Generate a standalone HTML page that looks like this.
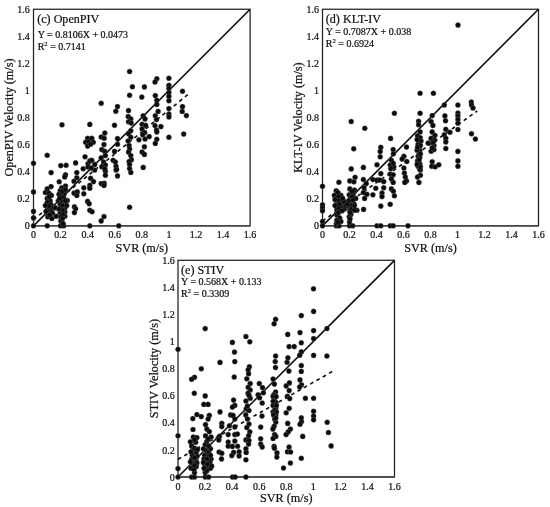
<!DOCTYPE html>
<html><head><meta charset="utf-8"><title>Scatter</title>
<style>
html,body{margin:0;padding:0;background:#fff;}
svg{display:block;font-family:"Liberation Serif",serif;fill:#111;}
text{stroke:#111;stroke-width:0.22px;}
.tk{font-size:10px;}
.al{font-size:12.2px;}
.tt{font-size:12.1px;}
.eq{font-size:10px;}
.fr{fill:none;stroke:#222;stroke-width:1.25;}
.ax{fill:none;stroke:#444;stroke-width:1.35;}
.dg{stroke:#111;stroke-width:1.65;fill:none;}
.ds{stroke:#111;stroke-width:1.65;fill:none;stroke-dasharray:3.7 3.73;}
.p circle{fill:#0a0a0a;stroke:#666;stroke-width:0.4;}
</style></head><body>
<svg width="550" height="507" viewBox="0 0 550 507">
<rect width="550" height="507" fill="#fff"/>

<g id="panel-c">
<rect class="fr" x="33.5" y="9.25" width="216.6" height="216.6"/>
<path class="ax" d="M33.5 225.8H250.1"/>
<text class="tk" x="33.5" y="238.1" text-anchor="middle">0</text>
<text class="tk" x="29.7" y="229.4" text-anchor="end">0</text>
<text class="tk" x="60.6" y="238.1" text-anchor="middle">0.2</text>
<text class="tk" x="29.7" y="202.3" text-anchor="end">0.2</text>
<text class="tk" x="87.7" y="238.1" text-anchor="middle">0.4</text>
<text class="tk" x="29.7" y="175.3" text-anchor="end">0.4</text>
<text class="tk" x="114.7" y="238.1" text-anchor="middle">0.6</text>
<text class="tk" x="29.7" y="148.2" text-anchor="end">0.6</text>
<text class="tk" x="141.8" y="238.1" text-anchor="middle">0.8</text>
<text class="tk" x="29.7" y="121.1" text-anchor="end">0.8</text>
<text class="tk" x="168.9" y="238.1" text-anchor="middle">1</text>
<text class="tk" x="29.7" y="94.1" text-anchor="end">1</text>
<text class="tk" x="196.0" y="238.1" text-anchor="middle">1.2</text>
<text class="tk" x="29.7" y="67.0" text-anchor="end">1.2</text>
<text class="tk" x="223.0" y="238.1" text-anchor="middle">1.4</text>
<text class="tk" x="29.7" y="39.9" text-anchor="end">1.4</text>
<text class="tk" x="250.1" y="238.1" text-anchor="middle">1.6</text>
<text class="tk" x="29.7" y="12.8" text-anchor="end">1.6</text>
<text class="al" x="141.8" y="251.9" text-anchor="middle">SVR (m/s)</text>
<text class="al" transform="translate(13.1 117.5) rotate(-90)" text-anchor="middle">OpenPIV Velocity (m/s)</text>
<text class="tt" x="37.2" y="23.0">(c) OpenPIV</text>
<text class="eq" x="37.7" y="38.2">Y = 0.8106X + 0.0473</text>
<text class="eq" x="37.7" y="49.8">R<tspan dy="-3.9" font-size="6.6px">2</tspan><tspan dy="3.9"> = 0.7141</tspan></text>
<path class="dg" d="M33.5 225.8L250.1 9.25"/>
<path class="ds" style="stroke-dasharray:3.62 3.6" d="M33.5 219.7L188.1 94.4"/>
<g class="p">
<circle cx="33.5" cy="191.9" r="2.55"/>
<circle cx="33.5" cy="211.4" r="2.55"/>
<circle cx="33.5" cy="217.9" r="2.55"/>
<circle cx="33.5" cy="225.8" r="2.55"/>
<circle cx="47.2" cy="225.8" r="2.55"/>
<circle cx="60.5" cy="225.8" r="2.55"/>
<circle cx="63.7" cy="225.8" r="2.55"/>
<circle cx="89.8" cy="225.8" r="2.55"/>
<circle cx="51.1" cy="172.6" r="2.55"/>
<circle cx="51.1" cy="186.6" r="2.55"/>
<circle cx="47.2" cy="188.9" r="2.55"/>
<circle cx="45.4" cy="192.5" r="2.55"/>
<circle cx="48.9" cy="193.1" r="2.55"/>
<circle cx="51.3" cy="195.4" r="2.55"/>
<circle cx="47.2" cy="198.4" r="2.55"/>
<circle cx="50.1" cy="200.8" r="2.55"/>
<circle cx="47.2" cy="202.5" r="2.55"/>
<circle cx="50.7" cy="204.3" r="2.55"/>
<circle cx="47.2" cy="206.7" r="2.55"/>
<circle cx="51.9" cy="207.9" r="2.55"/>
<circle cx="47.2" cy="210.2" r="2.55"/>
<circle cx="51.3" cy="211.4" r="2.55"/>
<circle cx="47.8" cy="213.8" r="2.55"/>
<circle cx="52.5" cy="213.2" r="2.55"/>
<circle cx="47.8" cy="216.8" r="2.55"/>
<circle cx="51.9" cy="218.5" r="2.55"/>
<circle cx="55.4" cy="207.9" r="2.55"/>
<circle cx="56.3" cy="216.2" r="2.55"/>
<circle cx="65.5" cy="174.7" r="2.55"/>
<circle cx="64.7" cy="176.9" r="2.55"/>
<circle cx="59.2" cy="181.8" r="2.55"/>
<circle cx="65.5" cy="186.0" r="2.55"/>
<circle cx="61.7" cy="187.8" r="2.55"/>
<circle cx="60.2" cy="190.7" r="2.55"/>
<circle cx="59.0" cy="194.3" r="2.55"/>
<circle cx="64.3" cy="193.7" r="2.55"/>
<circle cx="61.4" cy="196.6" r="2.55"/>
<circle cx="63.7" cy="197.8" r="2.55"/>
<circle cx="58.4" cy="200.8" r="2.55"/>
<circle cx="62.0" cy="201.4" r="2.55"/>
<circle cx="67.3" cy="200.5" r="2.55"/>
<circle cx="60.2" cy="204.3" r="2.55"/>
<circle cx="64.9" cy="204.3" r="2.55"/>
<circle cx="60.8" cy="208.5" r="2.55"/>
<circle cx="64.9" cy="207.9" r="2.55"/>
<circle cx="60.2" cy="212.6" r="2.55"/>
<circle cx="64.9" cy="212.0" r="2.55"/>
<circle cx="60.8" cy="216.8" r="2.55"/>
<circle cx="64.9" cy="216.2" r="2.55"/>
<circle cx="60.8" cy="220.9" r="2.55"/>
<circle cx="63.1" cy="223.5" r="2.55"/>
<circle cx="76.8" cy="172.6" r="2.55"/>
<circle cx="76.8" cy="177.7" r="2.55"/>
<circle cx="74.0" cy="181.2" r="2.55"/>
<circle cx="74.0" cy="193.1" r="2.55"/>
<circle cx="77.3" cy="191.9" r="2.55"/>
<circle cx="76.8" cy="195.4" r="2.55"/>
<circle cx="83.8" cy="187.8" r="2.55"/>
<circle cx="83.8" cy="193.7" r="2.55"/>
<circle cx="74.4" cy="206.7" r="2.55"/>
<circle cx="75.6" cy="208.8" r="2.55"/>
<circle cx="74.4" cy="212.6" r="2.55"/>
<circle cx="87.6" cy="201.4" r="2.55"/>
<circle cx="89.2" cy="203.7" r="2.55"/>
<circle cx="89.8" cy="210.2" r="2.55"/>
<circle cx="89.8" cy="185.4" r="2.55"/>
<circle cx="89.8" cy="188.3" r="2.55"/>
<circle cx="94.7" cy="170.0" r="2.55"/>
<circle cx="105.4" cy="171.2" r="2.55"/>
<circle cx="105.4" cy="175.3" r="2.55"/>
<circle cx="116.0" cy="170.0" r="2.55"/>
<circle cx="117.5" cy="175.9" r="2.55"/>
<circle cx="130.8" cy="172.4" r="2.55"/>
<circle cx="90.6" cy="178.3" r="2.55"/>
<circle cx="93.5" cy="181.6" r="2.55"/>
<circle cx="101.2" cy="183.6" r="2.55"/>
<circle cx="104.2" cy="183.2" r="2.55"/>
<circle cx="104.0" cy="185.4" r="2.55"/>
<circle cx="92.1" cy="211.7" r="2.55"/>
<circle cx="129.6" cy="207.3" r="2.55"/>
<circle cx="104.0" cy="216.5" r="2.55"/>
<circle cx="101.2" cy="220.9" r="2.55"/>
<circle cx="118.8" cy="225.8" r="2.55"/>
<circle cx="62.0" cy="124.8" r="2.55"/>
<circle cx="89.8" cy="124.4" r="2.55"/>
<circle cx="87.6" cy="138.4" r="2.55"/>
<circle cx="85.6" cy="142.2" r="2.55"/>
<circle cx="88.6" cy="141.9" r="2.55"/>
<circle cx="87.6" cy="146.1" r="2.55"/>
<circle cx="47.2" cy="155.3" r="2.55"/>
<circle cx="85.0" cy="156.8" r="2.55"/>
<circle cx="33.5" cy="163.2" r="2.55"/>
<circle cx="60.8" cy="165.6" r="2.55"/>
<circle cx="66.1" cy="165.3" r="2.55"/>
<circle cx="75.6" cy="162.9" r="2.55"/>
<circle cx="88.0" cy="163.8" r="2.55"/>
<circle cx="89.8" cy="160.9" r="2.55"/>
<circle cx="83.2" cy="168.8" r="2.55"/>
<circle cx="88.0" cy="167.0" r="2.55"/>
<circle cx="91.8" cy="138.2" r="2.55"/>
<circle cx="93.3" cy="142.2" r="2.55"/>
<circle cx="90.6" cy="144.3" r="2.55"/>
<circle cx="91.8" cy="160.3" r="2.55"/>
<circle cx="94.7" cy="164.4" r="2.55"/>
<circle cx="91.2" cy="168.0" r="2.55"/>
<circle cx="104.8" cy="133.1" r="2.55"/>
<circle cx="101.2" cy="137.0" r="2.55"/>
<circle cx="104.2" cy="138.2" r="2.55"/>
<circle cx="104.0" cy="144.6" r="2.55"/>
<circle cx="101.8" cy="149.6" r="2.55"/>
<circle cx="104.8" cy="151.4" r="2.55"/>
<circle cx="105.4" cy="155.6" r="2.55"/>
<circle cx="101.2" cy="157.9" r="2.55"/>
<circle cx="103.6" cy="162.1" r="2.55"/>
<circle cx="105.4" cy="165.0" r="2.55"/>
<circle cx="101.8" cy="166.8" r="2.55"/>
<circle cx="104.8" cy="168.8" r="2.55"/>
<circle cx="114.5" cy="125.2" r="2.55"/>
<circle cx="115.8" cy="111.2" r="2.55"/>
<circle cx="117.5" cy="138.6" r="2.55"/>
<circle cx="117.5" cy="144.3" r="2.55"/>
<circle cx="114.5" cy="151.4" r="2.55"/>
<circle cx="113.1" cy="160.3" r="2.55"/>
<circle cx="115.4" cy="162.1" r="2.55"/>
<circle cx="116.0" cy="166.2" r="2.55"/>
<circle cx="116.6" cy="169.4" r="2.55"/>
<circle cx="128.5" cy="110.6" r="2.55"/>
<circle cx="128.2" cy="116.5" r="2.55"/>
<circle cx="130.8" cy="118.9" r="2.55"/>
<circle cx="128.5" cy="121.8" r="2.55"/>
<circle cx="131.2" cy="123.0" r="2.55"/>
<circle cx="130.8" cy="130.7" r="2.55"/>
<circle cx="128.5" cy="133.7" r="2.55"/>
<circle cx="130.8" cy="137.2" r="2.55"/>
<circle cx="128.1" cy="141.0" r="2.55"/>
<circle cx="129.1" cy="145.5" r="2.55"/>
<circle cx="129.6" cy="149.1" r="2.55"/>
<circle cx="128.5" cy="152.0" r="2.55"/>
<circle cx="130.8" cy="155.6" r="2.55"/>
<circle cx="131.4" cy="159.7" r="2.55"/>
<circle cx="129.1" cy="161.5" r="2.55"/>
<circle cx="129.6" cy="164.4" r="2.55"/>
<circle cx="129.6" cy="168.6" r="2.55"/>
<circle cx="143.2" cy="115.9" r="2.55"/>
<circle cx="145.0" cy="118.9" r="2.55"/>
<circle cx="142.1" cy="124.2" r="2.55"/>
<circle cx="145.6" cy="125.4" r="2.55"/>
<circle cx="142.1" cy="128.9" r="2.55"/>
<circle cx="144.7" cy="132.5" r="2.55"/>
<circle cx="142.7" cy="134.8" r="2.55"/>
<circle cx="145.0" cy="139.0" r="2.55"/>
<circle cx="138.9" cy="139.8" r="2.55"/>
<circle cx="144.4" cy="146.7" r="2.55"/>
<circle cx="142.1" cy="152.0" r="2.55"/>
<circle cx="144.4" cy="154.4" r="2.55"/>
<circle cx="143.2" cy="167.4" r="2.55"/>
<circle cx="149.2" cy="136.6" r="2.55"/>
<circle cx="158.1" cy="111.4" r="2.55"/>
<circle cx="155.3" cy="115.7" r="2.55"/>
<circle cx="156.5" cy="119.5" r="2.55"/>
<circle cx="155.0" cy="125.6" r="2.55"/>
<circle cx="160.9" cy="126.6" r="2.55"/>
<circle cx="156.5" cy="130.1" r="2.55"/>
<circle cx="156.8" cy="131.9" r="2.55"/>
<circle cx="156.8" cy="139.3" r="2.55"/>
<circle cx="155.3" cy="143.4" r="2.55"/>
<circle cx="168.9" cy="114.1" r="2.55"/>
<circle cx="168.9" cy="116.9" r="2.55"/>
<circle cx="168.9" cy="137.2" r="2.55"/>
<circle cx="182.2" cy="111.4" r="2.55"/>
<circle cx="186.4" cy="115.6" r="2.55"/>
<circle cx="183.7" cy="134.0" r="2.55"/>
<circle cx="129.6" cy="71.5" r="2.55"/>
<circle cx="132.4" cy="86.7" r="2.55"/>
<circle cx="144.4" cy="86.9" r="2.55"/>
<circle cx="129.6" cy="95.2" r="2.55"/>
<circle cx="141.8" cy="97.1" r="2.55"/>
<circle cx="101.2" cy="103.2" r="2.55"/>
<circle cx="117.5" cy="106.6" r="2.55"/>
<circle cx="156.8" cy="78.8" r="2.55"/>
<circle cx="155.0" cy="82.0" r="2.55"/>
<circle cx="155.3" cy="95.6" r="2.55"/>
<circle cx="156.8" cy="100.3" r="2.55"/>
<circle cx="156.8" cy="104.4" r="2.55"/>
<circle cx="168.9" cy="78.2" r="2.55"/>
<circle cx="168.9" cy="85.3" r="2.55"/>
<circle cx="168.9" cy="88.5" r="2.55"/>
<circle cx="168.9" cy="92.6" r="2.55"/>
<circle cx="168.9" cy="96.4" r="2.55"/>
<circle cx="168.9" cy="100.7" r="2.55"/>
<circle cx="168.9" cy="108.6" r="2.55"/>
<circle cx="182.5" cy="91.2" r="2.55"/>
<circle cx="182.5" cy="106.6" r="2.55"/>
<circle cx="49.2" cy="196.6" r="2.55"/>
<circle cx="49.2" cy="206.1" r="2.55"/>
<circle cx="49.5" cy="215.0" r="2.55"/>
<circle cx="45.4" cy="205.5" r="2.55"/>
<circle cx="46.0" cy="211.4" r="2.55"/>
<circle cx="62.5" cy="191.3" r="2.55"/>
<circle cx="65.5" cy="189.5" r="2.55"/>
<circle cx="59.6" cy="198.4" r="2.55"/>
<circle cx="65.5" cy="200.8" r="2.55"/>
<circle cx="62.5" cy="205.5" r="2.55"/>
<circle cx="62.5" cy="210.2" r="2.55"/>
<circle cx="63.1" cy="214.4" r="2.55"/>
<circle cx="62.5" cy="218.5" r="2.55"/>
<circle cx="59.0" cy="209.1" r="2.55"/>
<circle cx="66.7" cy="205.5" r="2.55"/>
</g></g>
<g id="panel-d">
<rect class="fr" x="322.5" y="9.25" width="216.0" height="216.6"/>
<path class="ax" d="M322.5 225.8H538.5"/>
<text class="tk" x="322.5" y="237.9" text-anchor="middle">0</text>
<text class="tk" x="318.9" y="229.4" text-anchor="end">0</text>
<text class="tk" x="349.5" y="237.9" text-anchor="middle">0.2</text>
<text class="tk" x="318.9" y="202.3" text-anchor="end">0.2</text>
<text class="tk" x="376.5" y="237.9" text-anchor="middle">0.4</text>
<text class="tk" x="318.9" y="175.3" text-anchor="end">0.4</text>
<text class="tk" x="403.5" y="237.9" text-anchor="middle">0.6</text>
<text class="tk" x="318.9" y="148.2" text-anchor="end">0.6</text>
<text class="tk" x="430.5" y="237.9" text-anchor="middle">0.8</text>
<text class="tk" x="318.9" y="121.1" text-anchor="end">0.8</text>
<text class="tk" x="457.5" y="237.9" text-anchor="middle">1</text>
<text class="tk" x="318.9" y="94.1" text-anchor="end">1</text>
<text class="tk" x="484.5" y="237.9" text-anchor="middle">1.2</text>
<text class="tk" x="318.9" y="67.0" text-anchor="end">1.2</text>
<text class="tk" x="511.5" y="237.9" text-anchor="middle">1.4</text>
<text class="tk" x="318.9" y="39.9" text-anchor="end">1.4</text>
<text class="tk" x="538.5" y="237.9" text-anchor="middle">1.6</text>
<text class="tk" x="318.9" y="12.8" text-anchor="end">1.6</text>
<text class="al" x="430.5" y="251.9" text-anchor="middle">SVR (m/s)</text>
<text class="al" transform="translate(302.1 117.5) rotate(-90)" text-anchor="middle">KLT-IV Velocity (m/s)</text>
<text class="tt" x="325.8" y="22.7">(d) KLT-IV</text>
<text class="eq" x="325.8" y="34.8">Y = 0.7087X + 0.038</text>
<text class="eq" x="325.8" y="46.7">R<tspan dy="-3.9" font-size="6.6px">2</tspan><tspan dy="3.9"> = 0.6924</tspan></text>
<path class="dg" d="M322.5 225.8L538.5 9.25"/>
<path class="ds" style="stroke-dasharray:3.62 3.6" d="M322.5 221.0L477.2 111.0"/>
<g class="p">
<circle cx="322.5" cy="186.3" r="2.55"/>
<circle cx="322.5" cy="204.9" r="2.55"/>
<circle cx="322.5" cy="207.9" r="2.55"/>
<circle cx="322.5" cy="210.8" r="2.55"/>
<circle cx="322.5" cy="221.5" r="2.55"/>
<circle cx="322.5" cy="225.8" r="2.55"/>
<circle cx="336.2" cy="225.8" r="2.55"/>
<circle cx="339.1" cy="225.8" r="2.55"/>
<circle cx="349.5" cy="225.8" r="2.55"/>
<circle cx="352.7" cy="225.8" r="2.55"/>
<circle cx="377.0" cy="225.8" r="2.55"/>
<circle cx="338.9" cy="182.2" r="2.55"/>
<circle cx="336.2" cy="190.7" r="2.55"/>
<circle cx="337.9" cy="192.5" r="2.55"/>
<circle cx="334.4" cy="195.4" r="2.55"/>
<circle cx="340.9" cy="195.4" r="2.55"/>
<circle cx="336.8" cy="198.4" r="2.55"/>
<circle cx="340.3" cy="199.6" r="2.55"/>
<circle cx="336.8" cy="201.9" r="2.55"/>
<circle cx="341.5" cy="202.5" r="2.55"/>
<circle cx="336.8" cy="205.5" r="2.55"/>
<circle cx="340.9" cy="206.7" r="2.55"/>
<circle cx="336.8" cy="209.6" r="2.55"/>
<circle cx="340.3" cy="210.8" r="2.55"/>
<circle cx="336.8" cy="215.0" r="2.55"/>
<circle cx="339.7" cy="217.9" r="2.55"/>
<circle cx="336.8" cy="220.3" r="2.55"/>
<circle cx="340.9" cy="221.5" r="2.55"/>
<circle cx="336.4" cy="223.5" r="2.55"/>
<circle cx="344.4" cy="209.1" r="2.55"/>
<circle cx="345.6" cy="205.5" r="2.55"/>
<circle cx="343.9" cy="201.4" r="2.55"/>
<circle cx="355.1" cy="177.3" r="2.55"/>
<circle cx="349.8" cy="180.9" r="2.55"/>
<circle cx="353.9" cy="181.8" r="2.55"/>
<circle cx="349.8" cy="188.9" r="2.55"/>
<circle cx="354.5" cy="190.1" r="2.55"/>
<circle cx="349.2" cy="194.8" r="2.55"/>
<circle cx="353.3" cy="193.7" r="2.55"/>
<circle cx="350.4" cy="198.4" r="2.55"/>
<circle cx="355.7" cy="198.4" r="2.55"/>
<circle cx="350.9" cy="202.5" r="2.55"/>
<circle cx="353.9" cy="203.7" r="2.55"/>
<circle cx="349.2" cy="206.7" r="2.55"/>
<circle cx="353.3" cy="207.3" r="2.55"/>
<circle cx="349.8" cy="210.2" r="2.55"/>
<circle cx="356.9" cy="210.2" r="2.55"/>
<circle cx="350.9" cy="214.4" r="2.55"/>
<circle cx="349.2" cy="216.8" r="2.55"/>
<circle cx="349.5" cy="222.1" r="2.55"/>
<circle cx="363.4" cy="179.5" r="2.55"/>
<circle cx="366.3" cy="183.6" r="2.55"/>
<circle cx="364.0" cy="187.8" r="2.55"/>
<circle cx="363.4" cy="192.5" r="2.55"/>
<circle cx="366.9" cy="194.3" r="2.55"/>
<circle cx="364.6" cy="198.4" r="2.55"/>
<circle cx="363.6" cy="209.4" r="2.55"/>
<circle cx="372.9" cy="179.5" r="2.55"/>
<circle cx="377.0" cy="180.1" r="2.55"/>
<circle cx="375.8" cy="188.3" r="2.55"/>
<circle cx="372.9" cy="194.8" r="2.55"/>
<circle cx="380.8" cy="173.6" r="2.55"/>
<circle cx="379.6" cy="180.1" r="2.55"/>
<circle cx="383.7" cy="181.6" r="2.55"/>
<circle cx="383.7" cy="187.8" r="2.55"/>
<circle cx="382.0" cy="193.1" r="2.55"/>
<circle cx="382.0" cy="196.6" r="2.55"/>
<circle cx="380.8" cy="206.1" r="2.55"/>
<circle cx="380.8" cy="225.8" r="2.55"/>
<circle cx="390.2" cy="174.1" r="2.55"/>
<circle cx="393.2" cy="174.7" r="2.55"/>
<circle cx="391.4" cy="178.9" r="2.55"/>
<circle cx="393.2" cy="182.4" r="2.55"/>
<circle cx="391.4" cy="188.9" r="2.55"/>
<circle cx="393.4" cy="191.3" r="2.55"/>
<circle cx="394.4" cy="195.8" r="2.55"/>
<circle cx="390.2" cy="204.3" r="2.55"/>
<circle cx="390.2" cy="225.8" r="2.55"/>
<circle cx="393.2" cy="225.8" r="2.55"/>
<circle cx="404.4" cy="173.0" r="2.55"/>
<circle cx="405.3" cy="177.1" r="2.55"/>
<circle cx="406.5" cy="180.9" r="2.55"/>
<circle cx="404.8" cy="182.4" r="2.55"/>
<circle cx="408.0" cy="225.8" r="2.55"/>
<circle cx="420.4" cy="175.3" r="2.55"/>
<circle cx="417.5" cy="177.1" r="2.55"/>
<circle cx="418.9" cy="182.4" r="2.55"/>
<circle cx="420.4" cy="170.0" r="2.55"/>
<circle cx="351.2" cy="121.5" r="2.55"/>
<circle cx="364.8" cy="128.3" r="2.55"/>
<circle cx="353.7" cy="148.7" r="2.55"/>
<circle cx="377.0" cy="164.7" r="2.55"/>
<circle cx="363.4" cy="167.4" r="2.55"/>
<circle cx="351.2" cy="168.9" r="2.55"/>
<circle cx="394.4" cy="113.2" r="2.55"/>
<circle cx="420.1" cy="113.2" r="2.55"/>
<circle cx="390.6" cy="138.4" r="2.55"/>
<circle cx="406.5" cy="147.0" r="2.55"/>
<circle cx="380.8" cy="147.3" r="2.55"/>
<circle cx="380.2" cy="151.4" r="2.55"/>
<circle cx="380.2" cy="156.8" r="2.55"/>
<circle cx="393.2" cy="149.6" r="2.55"/>
<circle cx="393.4" cy="153.8" r="2.55"/>
<circle cx="391.4" cy="160.3" r="2.55"/>
<circle cx="390.2" cy="165.0" r="2.55"/>
<circle cx="393.8" cy="166.8" r="2.55"/>
<circle cx="403.9" cy="156.2" r="2.55"/>
<circle cx="402.1" cy="159.1" r="2.55"/>
<circle cx="406.8" cy="161.5" r="2.55"/>
<circle cx="403.9" cy="168.0" r="2.55"/>
<circle cx="418.6" cy="121.2" r="2.55"/>
<circle cx="418.6" cy="124.8" r="2.55"/>
<circle cx="420.1" cy="131.9" r="2.55"/>
<circle cx="417.5" cy="135.8" r="2.55"/>
<circle cx="420.2" cy="137.8" r="2.55"/>
<circle cx="421.0" cy="141.0" r="2.55"/>
<circle cx="418.1" cy="144.3" r="2.55"/>
<circle cx="419.2" cy="147.9" r="2.55"/>
<circle cx="419.8" cy="150.8" r="2.55"/>
<circle cx="418.1" cy="156.2" r="2.55"/>
<circle cx="419.8" cy="157.3" r="2.55"/>
<circle cx="417.5" cy="160.9" r="2.55"/>
<circle cx="419.8" cy="163.8" r="2.55"/>
<circle cx="418.1" cy="166.2" r="2.55"/>
<circle cx="419.8" cy="169.2" r="2.55"/>
<circle cx="432.2" cy="115.6" r="2.55"/>
<circle cx="431.1" cy="121.5" r="2.55"/>
<circle cx="432.9" cy="125.4" r="2.55"/>
<circle cx="432.2" cy="131.9" r="2.55"/>
<circle cx="434.9" cy="135.4" r="2.55"/>
<circle cx="431.1" cy="138.4" r="2.55"/>
<circle cx="434.6" cy="140.2" r="2.55"/>
<circle cx="428.1" cy="143.1" r="2.55"/>
<circle cx="434.0" cy="145.5" r="2.55"/>
<circle cx="431.1" cy="151.2" r="2.55"/>
<circle cx="434.0" cy="149.6" r="2.55"/>
<circle cx="432.2" cy="161.7" r="2.55"/>
<circle cx="431.7" cy="166.2" r="2.55"/>
<circle cx="435.2" cy="166.8" r="2.55"/>
<circle cx="438.8" cy="164.7" r="2.55"/>
<circle cx="444.9" cy="115.9" r="2.55"/>
<circle cx="445.5" cy="120.7" r="2.55"/>
<circle cx="445.8" cy="129.3" r="2.55"/>
<circle cx="449.9" cy="132.2" r="2.55"/>
<circle cx="444.3" cy="134.8" r="2.55"/>
<circle cx="445.8" cy="138.4" r="2.55"/>
<circle cx="445.8" cy="141.9" r="2.55"/>
<circle cx="445.8" cy="148.5" r="2.55"/>
<circle cx="457.9" cy="113.0" r="2.55"/>
<circle cx="457.9" cy="115.9" r="2.55"/>
<circle cx="457.9" cy="119.5" r="2.55"/>
<circle cx="457.9" cy="123.2" r="2.55"/>
<circle cx="457.9" cy="129.5" r="2.55"/>
<circle cx="457.9" cy="151.4" r="2.55"/>
<circle cx="457.9" cy="160.9" r="2.55"/>
<circle cx="457.9" cy="166.2" r="2.55"/>
<circle cx="471.5" cy="133.7" r="2.55"/>
<circle cx="475.4" cy="139.0" r="2.55"/>
<circle cx="444.3" cy="105.0" r="2.55"/>
<circle cx="457.9" cy="105.0" r="2.55"/>
<circle cx="471.3" cy="102.1" r="2.55"/>
<circle cx="471.5" cy="105.0" r="2.55"/>
<circle cx="473.0" cy="108.0" r="2.55"/>
<circle cx="420.1" cy="93.2" r="2.55"/>
<circle cx="433.4" cy="93.2" r="2.55"/>
<circle cx="338.5" cy="196.6" r="2.55"/>
<circle cx="338.5" cy="200.8" r="2.55"/>
<circle cx="339.1" cy="204.3" r="2.55"/>
<circle cx="338.5" cy="208.5" r="2.55"/>
<circle cx="338.5" cy="212.6" r="2.55"/>
<circle cx="335.0" cy="205.5" r="2.55"/>
<circle cx="335.0" cy="199.6" r="2.55"/>
<circle cx="337.9" cy="222.1" r="2.55"/>
<circle cx="342.1" cy="210.8" r="2.55"/>
<circle cx="342.7" cy="198.4" r="2.55"/>
<circle cx="352.1" cy="191.3" r="2.55"/>
<circle cx="352.1" cy="196.6" r="2.55"/>
<circle cx="348.6" cy="200.8" r="2.55"/>
<circle cx="352.7" cy="200.2" r="2.55"/>
<circle cx="351.5" cy="205.5" r="2.55"/>
<circle cx="351.5" cy="209.1" r="2.55"/>
<circle cx="354.5" cy="210.2" r="2.55"/>
<circle cx="350.0" cy="212.6" r="2.55"/>
<circle cx="350.0" cy="219.1" r="2.55"/>
<circle cx="347.4" cy="204.3" r="2.55"/>
<circle cx="354.5" cy="205.5" r="2.55"/>
<circle cx="417.1" cy="139.6" r="2.55"/>
<circle cx="420.4" cy="145.5" r="2.55"/>
<circle cx="417.1" cy="150.2" r="2.55"/>
<circle cx="420.4" cy="153.8" r="2.55"/>
<circle cx="419.2" cy="159.7" r="2.55"/>
<circle cx="417.1" cy="164.4" r="2.55"/>
<circle cx="420.4" cy="166.8" r="2.55"/>
<circle cx="417.5" cy="147.3" r="2.55"/>
<circle cx="432.9" cy="142.5" r="2.55"/>
<circle cx="432.2" cy="147.9" r="2.55"/>
<circle cx="393.2" cy="163.2" r="2.55"/>
<circle cx="390.8" cy="168.6" r="2.55"/>
<circle cx="458.0" cy="25.1" r="2.55"/>
</g></g>
<g id="panel-e">
<rect class="fr" x="178.0" y="260.3" width="216.5" height="216.7"/>
<path class="ax" d="M178.0 477.0H394.5"/>
<text class="tk" x="178.0" y="489.6" text-anchor="middle">0</text>
<text class="tk" x="174.7" y="480.6" text-anchor="end">0</text>
<text class="tk" x="205.1" y="489.6" text-anchor="middle">0.2</text>
<text class="tk" x="174.7" y="453.5" text-anchor="end">0.2</text>
<text class="tk" x="232.1" y="489.6" text-anchor="middle">0.4</text>
<text class="tk" x="174.7" y="426.4" text-anchor="end">0.4</text>
<text class="tk" x="259.2" y="489.6" text-anchor="middle">0.6</text>
<text class="tk" x="174.7" y="399.3" text-anchor="end">0.6</text>
<text class="tk" x="286.2" y="489.6" text-anchor="middle">0.8</text>
<text class="tk" x="174.7" y="372.3" text-anchor="end">0.8</text>
<text class="tk" x="313.3" y="489.6" text-anchor="middle">1</text>
<text class="tk" x="174.7" y="345.2" text-anchor="end">1</text>
<text class="tk" x="340.4" y="489.6" text-anchor="middle">1.2</text>
<text class="tk" x="174.7" y="318.1" text-anchor="end">1.2</text>
<text class="tk" x="367.4" y="489.6" text-anchor="middle">1.4</text>
<text class="tk" x="174.7" y="291.0" text-anchor="end">1.4</text>
<text class="tk" x="394.5" y="489.6" text-anchor="middle">1.6</text>
<text class="tk" x="174.7" y="263.9" text-anchor="end">1.6</text>
<text class="al" x="286.2" y="502.4" text-anchor="middle">SVR (m/s)</text>
<text class="al" transform="translate(157.6 368.6) rotate(-90)" text-anchor="middle">STIV Velocity (m/s)</text>
<text class="tt" x="181.0" y="273.7">(e) STIV</text>
<text class="eq" x="181.1" y="285.4">Y = 0.568X + 0.133</text>
<text class="eq" x="181.1" y="297.3">R<tspan dy="-3.9" font-size="6.6px">2</tspan><tspan dy="3.9"> = 0.3309</tspan></text>
<path class="dg" d="M178.0 477.0L394.5 260.3"/>
<path class="ds" style="stroke-dasharray:3.62 3.62" d="M178.0 459.3L332.5 371.4"/>
<g class="p">
<circle cx="178.0" cy="435.8" r="2.55"/>
<circle cx="178.0" cy="468.6" r="2.55"/>
<circle cx="178.0" cy="477.0" r="2.55"/>
<circle cx="191.6" cy="477.0" r="2.55"/>
<circle cx="194.5" cy="477.0" r="2.55"/>
<circle cx="205.2" cy="477.0" r="2.55"/>
<circle cx="208.7" cy="477.0" r="2.55"/>
<circle cx="232.5" cy="477.0" r="2.55"/>
<circle cx="235.2" cy="477.0" r="2.55"/>
<circle cx="193.0" cy="429.5" r="2.55"/>
<circle cx="193.3" cy="437.0" r="2.55"/>
<circle cx="196.9" cy="437.6" r="2.55"/>
<circle cx="190.4" cy="441.7" r="2.55"/>
<circle cx="195.7" cy="442.3" r="2.55"/>
<circle cx="191.6" cy="445.9" r="2.55"/>
<circle cx="192.8" cy="450.0" r="2.55"/>
<circle cx="196.3" cy="452.9" r="2.55"/>
<circle cx="192.2" cy="455.3" r="2.55"/>
<circle cx="196.9" cy="456.5" r="2.55"/>
<circle cx="191.6" cy="459.5" r="2.55"/>
<circle cx="196.3" cy="461.2" r="2.55"/>
<circle cx="192.2" cy="463.6" r="2.55"/>
<circle cx="196.9" cy="463.0" r="2.55"/>
<circle cx="192.8" cy="467.8" r="2.55"/>
<circle cx="196.3" cy="466.6" r="2.55"/>
<circle cx="194.5" cy="472.5" r="2.55"/>
<circle cx="191.0" cy="468.3" r="2.55"/>
<circle cx="205.5" cy="424.6" r="2.55"/>
<circle cx="206.9" cy="429.1" r="2.55"/>
<circle cx="209.3" cy="431.6" r="2.55"/>
<circle cx="205.5" cy="435.8" r="2.55"/>
<circle cx="211.1" cy="437.0" r="2.55"/>
<circle cx="206.7" cy="441.7" r="2.55"/>
<circle cx="205.2" cy="444.7" r="2.55"/>
<circle cx="210.5" cy="448.8" r="2.55"/>
<circle cx="205.8" cy="450.6" r="2.55"/>
<circle cx="208.7" cy="452.9" r="2.55"/>
<circle cx="204.6" cy="455.3" r="2.55"/>
<circle cx="208.1" cy="457.1" r="2.55"/>
<circle cx="204.0" cy="458.9" r="2.55"/>
<circle cx="211.1" cy="459.1" r="2.55"/>
<circle cx="206.4" cy="461.8" r="2.55"/>
<circle cx="209.9" cy="462.4" r="2.55"/>
<circle cx="205.2" cy="465.4" r="2.55"/>
<circle cx="209.3" cy="466.6" r="2.55"/>
<circle cx="206.4" cy="468.3" r="2.55"/>
<circle cx="205.2" cy="472.5" r="2.55"/>
<circle cx="221.8" cy="423.4" r="2.55"/>
<circle cx="221.8" cy="426.6" r="2.55"/>
<circle cx="219.4" cy="436.4" r="2.55"/>
<circle cx="218.8" cy="439.9" r="2.55"/>
<circle cx="219.1" cy="452.0" r="2.55"/>
<circle cx="221.8" cy="453.2" r="2.55"/>
<circle cx="221.5" cy="458.9" r="2.55"/>
<circle cx="229.4" cy="425.7" r="2.55"/>
<circle cx="228.2" cy="434.6" r="2.55"/>
<circle cx="228.2" cy="442.1" r="2.55"/>
<circle cx="228.2" cy="446.1" r="2.55"/>
<circle cx="232.4" cy="446.4" r="2.55"/>
<circle cx="233.6" cy="452.4" r="2.55"/>
<circle cx="231.8" cy="455.6" r="2.55"/>
<circle cx="234.8" cy="426.9" r="2.55"/>
<circle cx="234.8" cy="434.6" r="2.55"/>
<circle cx="234.8" cy="441.1" r="2.55"/>
<circle cx="237.4" cy="434.0" r="2.55"/>
<circle cx="237.6" cy="446.2" r="2.55"/>
<circle cx="239.1" cy="451.8" r="2.55"/>
<circle cx="239.1" cy="455.9" r="2.55"/>
<circle cx="249.0" cy="424.0" r="2.55"/>
<circle cx="246.8" cy="427.5" r="2.55"/>
<circle cx="249.8" cy="431.9" r="2.55"/>
<circle cx="248.6" cy="435.8" r="2.55"/>
<circle cx="245.9" cy="439.9" r="2.55"/>
<circle cx="249.0" cy="440.5" r="2.55"/>
<circle cx="248.6" cy="444.1" r="2.55"/>
<circle cx="245.9" cy="448.8" r="2.55"/>
<circle cx="246.2" cy="452.4" r="2.55"/>
<circle cx="245.9" cy="459.8" r="2.55"/>
<circle cx="245.9" cy="477.0" r="2.55"/>
<circle cx="260.7" cy="427.1" r="2.55"/>
<circle cx="260.7" cy="438.8" r="2.55"/>
<circle cx="260.7" cy="444.1" r="2.55"/>
<circle cx="262.2" cy="447.0" r="2.55"/>
<circle cx="275.8" cy="422.2" r="2.55"/>
<circle cx="274.1" cy="426.3" r="2.55"/>
<circle cx="272.9" cy="429.1" r="2.55"/>
<circle cx="274.6" cy="434.6" r="2.55"/>
<circle cx="275.8" cy="436.4" r="2.55"/>
<circle cx="273.1" cy="438.5" r="2.55"/>
<circle cx="274.1" cy="446.4" r="2.55"/>
<circle cx="274.4" cy="448.2" r="2.55"/>
<circle cx="277.0" cy="452.9" r="2.55"/>
<circle cx="276.8" cy="457.1" r="2.55"/>
<circle cx="287.7" cy="423.4" r="2.55"/>
<circle cx="290.4" cy="429.1" r="2.55"/>
<circle cx="288.2" cy="431.9" r="2.55"/>
<circle cx="286.1" cy="434.6" r="2.55"/>
<circle cx="289.1" cy="447.0" r="2.55"/>
<circle cx="287.4" cy="451.8" r="2.55"/>
<circle cx="290.6" cy="452.0" r="2.55"/>
<circle cx="290.4" cy="463.0" r="2.55"/>
<circle cx="283.5" cy="468.0" r="2.55"/>
<circle cx="301.5" cy="421.6" r="2.55"/>
<circle cx="300.0" cy="424.3" r="2.55"/>
<circle cx="302.7" cy="436.4" r="2.55"/>
<circle cx="301.3" cy="458.3" r="2.55"/>
<circle cx="327.2" cy="422.2" r="2.55"/>
<circle cx="328.4" cy="432.5" r="2.55"/>
<circle cx="331.1" cy="445.9" r="2.55"/>
<circle cx="220.0" cy="362.4" r="2.55"/>
<circle cx="201.3" cy="368.7" r="2.55"/>
<circle cx="194.5" cy="377.3" r="2.55"/>
<circle cx="191.6" cy="379.3" r="2.55"/>
<circle cx="194.3" cy="393.2" r="2.55"/>
<circle cx="205.2" cy="395.9" r="2.55"/>
<circle cx="203.8" cy="404.4" r="2.55"/>
<circle cx="208.1" cy="404.4" r="2.55"/>
<circle cx="220.0" cy="411.9" r="2.55"/>
<circle cx="196.9" cy="414.5" r="2.55"/>
<circle cx="201.3" cy="416.6" r="2.55"/>
<circle cx="192.8" cy="418.6" r="2.55"/>
<circle cx="209.3" cy="415.4" r="2.55"/>
<circle cx="208.1" cy="419.0" r="2.55"/>
<circle cx="234.2" cy="377.0" r="2.55"/>
<circle cx="233.6" cy="400.1" r="2.55"/>
<circle cx="234.8" cy="405.4" r="2.55"/>
<circle cx="232.4" cy="407.1" r="2.55"/>
<circle cx="230.6" cy="414.9" r="2.55"/>
<circle cx="233.0" cy="415.4" r="2.55"/>
<circle cx="234.8" cy="419.0" r="2.55"/>
<circle cx="234.8" cy="361.6" r="2.55"/>
<circle cx="249.4" cy="366.7" r="2.55"/>
<circle cx="248.2" cy="369.9" r="2.55"/>
<circle cx="248.6" cy="373.8" r="2.55"/>
<circle cx="246.8" cy="378.8" r="2.55"/>
<circle cx="250.2" cy="383.5" r="2.55"/>
<circle cx="248.2" cy="387.3" r="2.55"/>
<circle cx="250.2" cy="390.0" r="2.55"/>
<circle cx="248.0" cy="393.2" r="2.55"/>
<circle cx="250.2" cy="398.3" r="2.55"/>
<circle cx="245.9" cy="401.0" r="2.55"/>
<circle cx="246.2" cy="408.9" r="2.55"/>
<circle cx="249.0" cy="410.5" r="2.55"/>
<circle cx="245.7" cy="414.9" r="2.55"/>
<circle cx="247.4" cy="419.0" r="2.55"/>
<circle cx="259.3" cy="383.5" r="2.55"/>
<circle cx="262.5" cy="387.6" r="2.55"/>
<circle cx="263.4" cy="392.7" r="2.55"/>
<circle cx="258.1" cy="394.7" r="2.55"/>
<circle cx="259.6" cy="397.7" r="2.55"/>
<circle cx="262.2" cy="403.0" r="2.55"/>
<circle cx="262.0" cy="416.0" r="2.55"/>
<circle cx="275.2" cy="361.6" r="2.55"/>
<circle cx="275.5" cy="367.5" r="2.55"/>
<circle cx="273.1" cy="379.0" r="2.55"/>
<circle cx="274.4" cy="384.1" r="2.55"/>
<circle cx="275.6" cy="392.0" r="2.55"/>
<circle cx="273.8" cy="394.7" r="2.55"/>
<circle cx="274.6" cy="398.3" r="2.55"/>
<circle cx="275.8" cy="402.4" r="2.55"/>
<circle cx="273.1" cy="405.4" r="2.55"/>
<circle cx="275.8" cy="408.3" r="2.55"/>
<circle cx="273.1" cy="411.9" r="2.55"/>
<circle cx="275.8" cy="415.4" r="2.55"/>
<circle cx="274.6" cy="419.0" r="2.55"/>
<circle cx="287.1" cy="362.2" r="2.55"/>
<circle cx="288.9" cy="371.1" r="2.55"/>
<circle cx="289.4" cy="382.9" r="2.55"/>
<circle cx="286.2" cy="385.9" r="2.55"/>
<circle cx="289.2" cy="390.6" r="2.55"/>
<circle cx="287.4" cy="396.3" r="2.55"/>
<circle cx="289.7" cy="398.6" r="2.55"/>
<circle cx="289.2" cy="408.3" r="2.55"/>
<circle cx="286.2" cy="412.7" r="2.55"/>
<circle cx="301.3" cy="365.5" r="2.55"/>
<circle cx="301.3" cy="371.4" r="2.55"/>
<circle cx="300.0" cy="379.9" r="2.55"/>
<circle cx="301.5" cy="384.7" r="2.55"/>
<circle cx="299.7" cy="387.0" r="2.55"/>
<circle cx="305.4" cy="398.3" r="2.55"/>
<circle cx="313.6" cy="398.3" r="2.55"/>
<circle cx="313.6" cy="411.3" r="2.55"/>
<circle cx="313.6" cy="416.0" r="2.55"/>
<circle cx="313.6" cy="419.8" r="2.55"/>
<circle cx="301.3" cy="417.8" r="2.55"/>
<circle cx="178.0" cy="349.3" r="2.55"/>
<circle cx="205.2" cy="328.6" r="2.55"/>
<circle cx="232.4" cy="342.4" r="2.55"/>
<circle cx="234.5" cy="352.1" r="2.55"/>
<circle cx="275.6" cy="319.3" r="2.55"/>
<circle cx="274.1" cy="323.7" r="2.55"/>
<circle cx="245.9" cy="336.5" r="2.55"/>
<circle cx="249.8" cy="341.8" r="2.55"/>
<circle cx="287.7" cy="334.4" r="2.55"/>
<circle cx="289.1" cy="346.6" r="2.55"/>
<circle cx="294.2" cy="346.6" r="2.55"/>
<circle cx="275.6" cy="356.0" r="2.55"/>
<circle cx="287.9" cy="357.8" r="2.55"/>
<circle cx="301.3" cy="315.6" r="2.55"/>
<circle cx="313.6" cy="311.4" r="2.55"/>
<circle cx="300.0" cy="332.6" r="2.55"/>
<circle cx="313.6" cy="330.6" r="2.55"/>
<circle cx="326.9" cy="328.5" r="2.55"/>
<circle cx="313.6" cy="338.6" r="2.55"/>
<circle cx="301.3" cy="342.7" r="2.55"/>
<circle cx="301.3" cy="351.9" r="2.55"/>
<circle cx="299.7" cy="355.2" r="2.55"/>
<circle cx="313.6" cy="355.4" r="2.55"/>
<circle cx="326.9" cy="356.0" r="2.55"/>
<circle cx="194.5" cy="439.9" r="2.55"/>
<circle cx="191.0" cy="451.8" r="2.55"/>
<circle cx="194.5" cy="448.2" r="2.55"/>
<circle cx="194.5" cy="457.7" r="2.55"/>
<circle cx="193.9" cy="469.5" r="2.55"/>
<circle cx="197.5" cy="449.4" r="2.55"/>
<circle cx="190.4" cy="461.8" r="2.55"/>
<circle cx="194.5" cy="465.4" r="2.55"/>
<circle cx="208.1" cy="438.8" r="2.55"/>
<circle cx="208.7" cy="445.9" r="2.55"/>
<circle cx="203.4" cy="448.8" r="2.55"/>
<circle cx="210.5" cy="455.3" r="2.55"/>
<circle cx="206.9" cy="458.9" r="2.55"/>
<circle cx="203.4" cy="462.4" r="2.55"/>
<circle cx="207.5" cy="464.2" r="2.55"/>
<circle cx="206.9" cy="470.7" r="2.55"/>
<circle cx="210.5" cy="468.3" r="2.55"/>
<circle cx="204.0" cy="468.3" r="2.55"/>
<circle cx="211.7" cy="466.0" r="2.55"/>
<circle cx="273.1" cy="396.5" r="2.55"/>
<circle cx="276.2" cy="396.5" r="2.55"/>
<circle cx="273.1" cy="401.2" r="2.55"/>
<circle cx="276.4" cy="405.4" r="2.55"/>
<circle cx="274.6" cy="410.1" r="2.55"/>
<circle cx="276.4" cy="411.9" r="2.55"/>
<circle cx="273.5" cy="414.9" r="2.55"/>
<circle cx="275.8" cy="418.0" r="2.55"/>
<circle cx="249.0" cy="395.3" r="2.55"/>
<circle cx="247.4" cy="406.0" r="2.55"/>
<circle cx="313.5" cy="288.8" r="2.55"/>
</g></g>
</svg></body></html>
